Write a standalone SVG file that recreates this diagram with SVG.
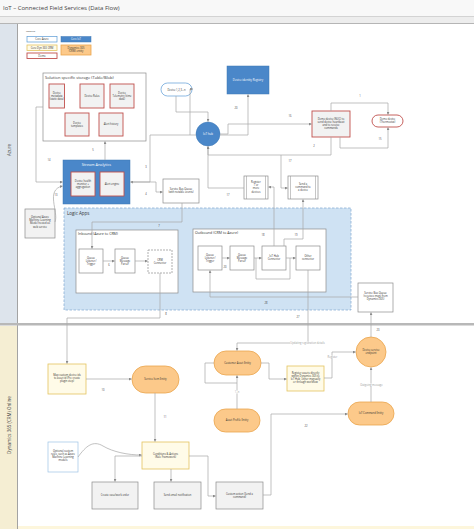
<svg xmlns="http://www.w3.org/2000/svg" width="474" height="529" viewBox="0 0 474 529">
<style>
text { font-family: "Open Sans","Liberation Sans",sans-serif; fill:#333; }
.t { font-size:2.6px; text-anchor:middle; }
.tw { font-size:2.8px; text-anchor:middle; fill:#fff; }
.num { font-size:2.6px; text-anchor:middle; fill:#444; }
.lbl { font-size:2.6px; text-anchor:middle; fill:#9a9a9a; }
.ct { font-size:4px; fill:#333; }
.line { fill:none; stroke:#a6a6a6; stroke-width:0.7; }
.arr { marker-end:url(#ah); }
.box { fill:#fff; stroke:#8c8c8c; stroke-width:0.7; }
.gray { fill:#f2f2f2; stroke:#8c8c8c; stroke-width:0.7; }
.demo { fill:#f2f2f2; stroke:#c0504d; stroke-width:0.9; }
.demow { fill:#fff; stroke:#c0504d; stroke-width:0.9; }
.iot { fill:#4a87c9; stroke:#3f78b5; stroke-width:0.5; }
.az { fill:#fff; stroke:#5b9bd5; stroke-width:0.7; }
.dyn { fill:#fffbe8; stroke:#e3c45f; stroke-width:0.8; }
.ent { fill:#fcc98a; stroke:#eaa54c; stroke-width:0.8; }
.lane { font-size:4.5px; text-anchor:middle; fill:#444; }
</style>
<defs>
<marker id="ah" viewBox="0 0 10 10" refX="9" refY="5" markerWidth="3" markerHeight="3" markerUnits="userSpaceOnUse" orient="auto">
<path d="M0,0 L10,5 L0,10 z" fill="#8a8a8a"/>
</marker>
</defs>

<g id="frame">
<rect x="0" y="0" width="474" height="529" fill="#fff"/>
<rect x="0" y="0" width="474" height="16" fill="#f8f8f8"/>
<line x1="0" y1="16.5" x2="474" y2="16.5" stroke="#c8c8c8" stroke-width="0.8"/>
<rect x="0" y="17" width="474" height="6" fill="#ededed"/>
<line x1="0" y1="23.5" x2="474" y2="23.5" stroke="#b5b5b5" stroke-width="1"/>
<text x="3" y="10" style="font-size:6px;fill:#444">IoT – Connected Field Services (Data Flow)</text>
<rect x="0" y="24" width="17" height="299" fill="#dde4ec"/>
<rect x="0" y="326" width="17" height="203" fill="#f5eed3"/>
<rect x="17" y="526" width="457" height="3" fill="#fdf6dc"/>
<line x1="17.5" y1="24" x2="17.5" y2="529" stroke="#8c8c8c" stroke-width="0.8"/>
<rect x="0" y="323" width="474" height="2.5" fill="#b8b8b8"/>
<text class="lane" transform="translate(11,150) rotate(-90)">Azure</text>
<text class="lane" transform="translate(11,425) rotate(-90)">Dynamics 365 (CRM) Online</text>
</g>

<g id="legend">
<text x="26" y="31.5" style="font-size:2.4px;fill:#444">LEGEND</text>
<rect x="27" y="36.5" width="30" height="5.5" class="az"/>
<text x="42" y="40.2" class="t">Core Azure</text>
<rect x="61" y="36.5" width="30" height="5.5" class="iot"/>
<text x="76" y="40.2" class="tw" style="font-size:2.6px">Core IoT</text>
<rect x="27" y="45" width="30" height="5.5" class="dyn"/>
<text x="42" y="48.7" class="t">Core Dyn 365 CRM</text>
<rect x="61" y="45" width="30" height="10" class="ent"/>
<text x="76" y="49.3" class="t">Dynamics 365</text>
<text x="76" y="52.4" class="t">(CRM) entity</text>
<rect x="27" y="53" width="30" height="5.5" class="demow"/>
<text x="42" y="56.7" class="t">Demo</text>
</g>

<g id="storage">
<rect x="43" y="73" width="103" height="68" class="box"/>
<text x="45" y="78.5" class="ct">Solution specific storage (Table/Blob)</text>
<g id="device-metadata"><rect x="49" y="84" width="15.5" height="24" class="demo"/>
<text class="t" x="56.7" y="93.5">Device</text><text class="t" x="56.7" y="96.5">metadata</text><text class="t" x="56.7" y="99.5">(static data)</text></g>
<g id="device-rules"><rect x="80" y="84" width="24" height="24" class="demo"/>
<text class="t" x="92" y="96.8">Device Rules</text></g>
<g id="device-telemetry"><rect x="110" y="84" width="24" height="24" class="demo"/>
<text class="t" x="122" y="93.5">Device</text><text class="t" x="122" y="96.5">Telemetry (time</text><text class="t" x="122" y="99.5">data)</text></g>
<g id="device-templates"><rect x="65" y="113" width="24" height="23" class="demo"/>
<text class="t" x="77" y="123.5">Device</text><text class="t" x="77" y="126.5">templates</text></g>
<g id="alert-history"><rect x="99" y="113" width="24" height="23" class="demo"/>
<text class="t" x="111" y="125.3">Alert history</text></g>
</g>

<g id="stream-analytics">
<rect x="63" y="160" width="67" height="44" class="iot"/>
<text x="96.5" y="166" style="font-size:3.8px;fill:#fff;text-anchor:middle">Stream Analytics</text>
<g id="health-monitor"><rect x="71" y="172" width="24" height="24" class="demo"/>
<text class="t" x="83" y="181.5">Device health</text><text class="t" x="83" y="184.5">monitor +</text><text class="t" x="83" y="187.5">aggregation</text></g>
<g id="alert-engine"><rect x="100" y="172" width="24" height="24" class="demo"/>
<text class="t" x="112" y="184.8">Alert engine</text></g>
</g>

<g id="azure-ml">
<rect x="25" y="209" width="30" height="29" class="gray"/>
<text class="t" x="40" y="218">Optional Azure</text><text class="t" x="40" y="221.2">Machine Learning</text><text class="t" x="40" y="224.4">Model hosted as</text><text class="t" x="40" y="227.6">web service</text>
</g>

<g id="sbq-events">
<rect x="163" y="179" width="36" height="24" class="box"/>
<text class="t" x="181" y="190">Service Bus Queue</text><text class="t" x="181" y="193.2">(with notable events)</text>
</g>

<g id="device-registry">
<rect x="227" y="66" width="42" height="28" class="iot"/>
<text class="tw" x="248" y="81">Device identity Registry</text>
</g>

<g id="devices">
<rect x="161" y="83" width="31" height="13" rx="6.5" class="az"/>
<text class="t" x="176.5" y="90.5">Device 1,2,3...n</text>
</g>

<g id="iot-hub">
<circle cx="208" cy="134" r="12" class="iot"/>
<text class="tw" x="208" y="135">IoT hub</text>
</g>

<g id="demo-nuc">
<rect x="312" y="111" width="38" height="26" class="demo"/>
<text class="t" x="331" y="119.5">Demo device (NUC) to</text><text class="t" x="331" y="122.7">send device heartbeat</text><text class="t" x="331" y="125.9">and to receive</text><text class="t" x="331" y="129.1">commands</text>
</g>

<g id="demo-thermostat">
<rect x="372" y="115" width="31" height="12" rx="6" class="demow"/>
<text class="t" x="387.5" y="120.3">Demo device</text><text class="t" x="387.5" y="123.3">(Thermostat)</text>
</g>

<g id="register-devices">
<rect x="244" y="176" width="24" height="23" class="box"/>
<line x1="246.5" y1="176" x2="246.5" y2="199" stroke="#8c8c8c" stroke-width="0.5"/>
<line x1="265.5" y1="176" x2="265.5" y2="199" stroke="#8c8c8c" stroke-width="0.5"/>
<text class="t" x="256" y="183">Register</text><text class="t" x="256" y="186.2">1 or</text><text class="t" x="256" y="189.4">more</text><text class="t" x="256" y="192.6">devices</text>
</g>

<g id="send-command">
<rect x="288" y="176" width="30" height="23" class="box"/>
<line x1="290.5" y1="176" x2="290.5" y2="199" stroke="#8c8c8c" stroke-width="0.5"/>
<line x1="315.5" y1="176" x2="315.5" y2="199" stroke="#8c8c8c" stroke-width="0.5"/>
<text class="t" x="303" y="184.5">Send a</text><text class="t" x="303" y="187.7">command to</text><text class="t" x="303" y="190.9">a device</text>
</g>

<g id="logic-apps">
<rect x="64" y="208" width="287" height="102" fill="#cfe2f3" stroke="#7fa7d0" stroke-width="0.7" stroke-dasharray="2.5,1.5"/>
<text x="67" y="214.5" style="font-size:4.5px;fill:#333">Logic Apps</text>
</g>

<g id="inbound">
<rect x="76" y="230" width="102" height="63" class="box"/>
<text x="78" y="235" class="ct" style="font-size:3.6px">Inbound (Azure to CRM)</text>
<g id="in-trigger"><rect x="79" y="249" width="24" height="24" class="box"/>
<text class="t" x="91" y="258.5">Queue</text><text class="t" x="91" y="261.5">Listener/</text><text class="t" x="91" y="264.5">Trigger</text></g>
<g id="in-parser"><rect x="115" y="249" width="20" height="24" class="box"/>
<text class="t" x="125" y="258.5">Queue</text><text class="t" x="125" y="261.5">Message</text><text class="t" x="125" y="264.5">Parser</text></g>
<g id="crm-connector"><rect x="148" y="250" width="24" height="23" fill="#fff" stroke="#8c8c8c" stroke-width="0.7" stroke-dasharray="2,1"/>
<text class="t" x="160" y="260.5">CRM</text><text class="t" x="160" y="263.5">Connector</text></g>
</g>

<g id="outbound">
<rect x="193" y="229" width="133" height="63" class="box"/>
<text x="195" y="234" class="ct" style="font-size:3.6px">Outbound (CRM to Azure)</text>
<g id="out-trigger"><rect x="198" y="246" width="24" height="24" class="box"/>
<text class="t" x="210" y="255.5">Queue</text><text class="t" x="210" y="258.5">Listener/</text><text class="t" x="210" y="261.5">Trigger</text></g>
<g id="out-parser"><rect x="230" y="246" width="24" height="24" class="box"/>
<text class="t" x="242" y="255.5">Queue</text><text class="t" x="242" y="258.5">Message</text><text class="t" x="242" y="261.5">Parser</text></g>
<g id="iothub-connector"><rect x="262" y="246" width="24" height="24" class="box"/>
<text class="t" x="274" y="257">IoT Hub</text><text class="t" x="274" y="260">Connector</text></g>
<g id="other-connector"><rect x="296" y="246" width="24" height="24" class="box"/>
<text class="t" x="308" y="257">Other</text><text class="t" x="308" y="260">connector</text></g>
</g>

<g id="sbq-dynamics">
<rect x="358" y="283" width="35" height="29" class="box"/>
<text class="t" x="375.5" y="294">Service Bus Queue</text><text class="t" x="375.5" y="297.2">(receives msgs from</text><text class="t" x="375.5" y="300.4">Dynamics 365)</text>
</g>

<g id="map-device">
<rect x="48" y="364" width="38" height="30" class="dyn"/>
<text class="t" x="67" y="376">Map custom device ids</text><text class="t" x="67" y="379.2">to asset id (Pre create</text><text class="t" x="67" y="382.4">plugin step)</text>
</g>

<g id="service-item">
<rect x="132" y="366" width="47" height="27" rx="13.5" class="ent"/>
<text class="t" x="155.5" y="380.3">Service Item Entity</text>
</g>

<g id="customer-asset">
<rect x="214" y="351" width="47" height="24" rx="12" class="ent"/>
<text class="t" x="237.5" y="363.8">Customer Asset Entity</text>
</g>

<g id="asset-profile">
<rect x="214" y="409" width="46" height="23" rx="11.5" class="ent"/>
<text class="t" x="237" y="421.3">Asset Profile Entity</text>
</g>

<g id="register-assets">
<rect x="287" y="366" width="37" height="25" class="dyn"/>
<text class="t" x="305.5" y="373.5">Register assets directly</text><text class="t" x="305.5" y="376.7">within Dynamics 365 to</text><text class="t" x="305.5" y="379.9">IoT Hub, either manually</text><text class="t" x="305.5" y="383.1">or through workflow</text>
</g>

<g id="service-endpoint">
<circle cx="371" cy="352" r="15" class="ent"/>
<text class="t" x="371" y="351">Device service</text><text class="t" x="371" y="354.2">endpoint</text>
</g>

<g id="iot-command">
<rect x="348" y="402" width="46" height="23" rx="11.5" class="ent"/>
<text class="t" x="371" y="414.3">IoT Command Entity</text>
</g>

<g id="conditions">
<rect x="142" y="442" width="47" height="27" class="dyn"/>
<text class="t" x="165.5" y="454.5">Conditions &amp; Actions</text><text class="t" x="165.5" y="457.7">(Rule Framework)</text>
</g>

<g id="custom-rules">
<rect x="48" y="442" width="30" height="30" fill="#fff" stroke="#9dc3e6" stroke-width="0.7"/>
<text class="t" x="63" y="451.5">Optional custom</text><text class="t" x="63" y="454.7">rules, such as Azure</text><text class="t" x="63" y="457.9">Machine Learning</text><text class="t" x="63" y="461.1">models</text>
</g>

<g id="create-case">
<rect x="92" y="482" width="46" height="27" class="gray"/>
<text class="t" x="115" y="496.3">Create case/work order</text>
</g>
<g id="send-email">
<rect x="154" y="482" width="47" height="27" class="gray"/>
<text class="t" x="177.5" y="496.3">Send email notification</text>
</g>
<g id="custom-action">
<rect x="216" y="482" width="47" height="27" class="gray"/>
<text class="t" x="239.5" y="494.8">Custom action (Send a</text><text class="t" x="239.5" y="498">command)</text>
</g>

<g id="connectors">
<path class="line arr" d="M176,96 V112 H208 V121.5"/>
<path class="line arr" d="M190,135 V89 H192.8"/>
<path class="line arr" d="M196,135 H150 V182 H130.5"/>
<text class="num" x="146" y="168">3</text>
<path class="line arr" d="M131,182 H156 V192 H162.5"/>
<text class="num" x="146" y="195">4</text>
<path class="line arr" d="M105,160 V141.5"/>
<text class="num" x="93" y="151">5</text>
<path class="line arr" d="M43,107 H36 V182 H62.5"/>
<text class="num" x="49" y="161">14</text>
<path class="line arr" d="M55,222 C59,212 45,190 62.5,186"/>
<text class="num" x="56" y="196">13</text>
<path class="line arr" d="M220,134 H228 V124 H311.5"/>
<text class="num" x="290" y="117">16</text>
<path class="line arr" d="M220,135 H248 V94.5"/>
<text class="num" x="236" y="109">20</text>
<path class="line arr" d="M331,111 V103 H388 V114.5"/>
<text class="num" x="360" y="97">1</text>
<path class="line arr" d="M340,137 V148 H388 V127.5"/>
<text class="num" x="380" y="140">15</text>
<path class="line arr" d="M331,137 V155 H208 V146.5"/>
<text class="num" x="314" y="147">2</text>
<path class="line arr" d="M244,188 H208 V146.5"/>
<text class="num" x="228" y="196">17</text>
<path class="line arr" d="M281,155 V188 H287.5"/>
<text class="num" x="290" y="162">17</text>
<path class="line arr" d="M274,246 V187 H268.5"/>
<text class="num" x="263" y="236">18</text>
<path class="line arr" d="M284,246 V239 H303 V199.5"/>
<text class="num" x="296" y="236">19</text>
<path class="line arr" d="M222,258 H229.5"/>
<path class="line arr" d="M254,258 H261.5"/>
<path class="line arr" d="M286,258 H295.5"/>
<path class="line" d="M256,258 V279 H290 V258"/>
<text class="num" x="225" y="268">20</text>
<path class="line arr" d="M358,297 H210 V270.5"/>
<text class="num" x="266" y="304">28</text>
<path class="line arr" d="M182,203 V222 H92 V248.5"/>
<text class="num" x="159" y="227">7</text>
<path class="line arr" d="M103,261 H114.5"/>
<text class="num" x="109" y="266">6</text>
<path class="line arr" d="M135,261 H147.5"/>
<path class="line arr" d="M160,273 V318 H67 V363.5"/>
<text class="num" x="166" y="315">8</text>
<path class="line arr" d="M308,270 V343 H237 V350.5"/>
<text class="num" x="298" y="318">27</text>
<rect x="290" y="341.6" width="35" height="2.8" fill="#fff"/>
<text class="lbl" x="307.5" y="343.9">Updating registration details</text>
<path class="line arr" d="M371,337 V312.5"/>
<text class="num" x="378" y="331">23</text>
<path class="line arr" d="M86,379 H131.5"/>
<text class="num" x="103" y="391">10</text>
<path class="line arr" d="M155,393 V441.5"/>
<text class="num" x="165" y="418">11</text>
<path class="line arr" d="M78,457 C86,446 93,440 103,446 C113,452 128,455 141.5,455"/>
<path class="line arr" d="M142,456 H115 V481.5"/>
<path class="line arr" d="M171,469 V481.5"/>
<path class="line arr" d="M189,456 H208 V496 H215.5"/>
<path class="line arr" d="M263,495 H271 V414 H347.5"/>
<text class="num" x="306" y="427">22</text>
<path class="line arr" d="M371,402 V367.5"/>
<rect x="360" y="383.6" width="23" height="2.8" fill="#fff"/>
<text class="lbl" x="371.5" y="385.9">Outgoing message</text>
<path class="line arr" d="M324,378 H332 V352 H355.5"/>
<rect x="327" y="355.6" width="11" height="2.8" fill="#fff"/>
<text class="lbl" x="332.5" y="357.9">Register</text>
<path class="line arr" d="M261,363 H269 V379 H286.5"/>
<path class="line arr" d="M237,409 V375.5"/>
<rect x="233" y="390.6" width="8" height="2.8" fill="#fff"/>
<text class="lbl" x="237" y="392.9">1..n</text>
<path class="line" d="M214,363 H205 V383 H237"/>
</g>
</svg>
